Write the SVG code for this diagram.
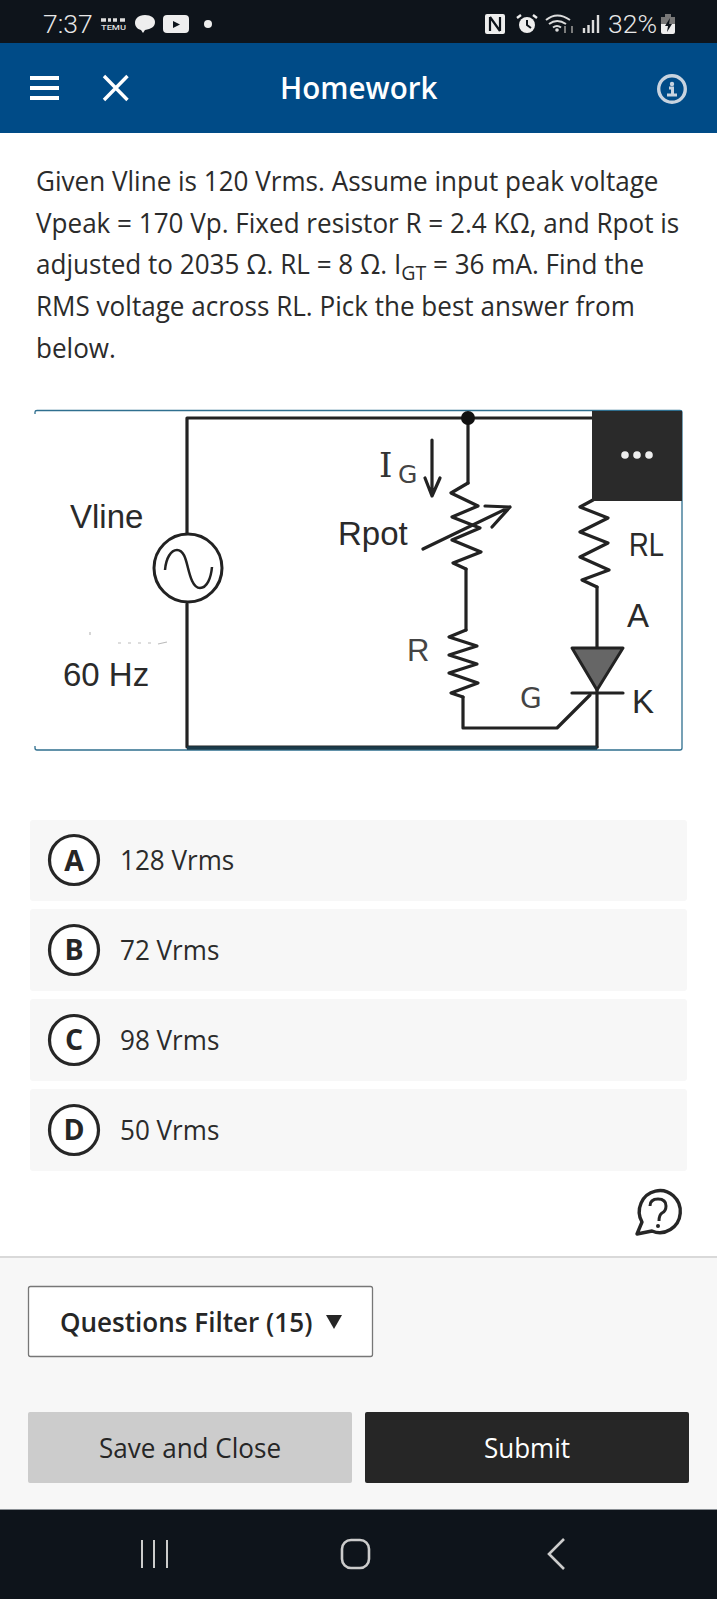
<svg xmlns="http://www.w3.org/2000/svg" width="717" height="1599" viewBox="0 0 717 1599">
<style>
.t{font-family:"Open Sans","Noto Sans",sans-serif;fill:#2b2b2b;font-size:27.300px}
.c{font-family:"Liberation Sans",Arial,sans-serif;fill:#2a2a2a;font-size:33px}
.w{fill:none;stroke:#222;stroke-width:3.200;stroke-linejoin:round;stroke-linecap:round}
.row{fill:#f7f7f7}
.ring{fill:#fff;stroke:#262626;stroke-width:3.200}
.let{font-family:"Open Sans","Noto Sans",sans-serif;font-size:28.500px;font-weight:700;fill:#262626;text-anchor:middle}
.st{font-family:"Roboto",sans-serif;fill:#e8e8e8;font-weight:300}
</style>
<rect width="717" height="1599" fill="#fff"/>
<g id="status-bar">
<rect width="717" height="43" fill="#0e141b"/>
<text class="st" x="43" y="33" font-size="26.500">7:37</text>
<text x="101" y="30" font-family="Roboto,sans-serif" font-size="8" font-weight="500" fill="#ddd" textLength="25" lengthAdjust="spacingAndGlyphs">TEMU</text>
<path d="M101 20h5M108 20h3M113 20h4M120 20h5" stroke="#ddd" stroke-width="3.500" fill="none"/>
<path d="M145 15c-7 0-10 4-10 8 0 3 2 6 6 7l2 3 2-3c6-1 10-3 10-8 0-4-4-7-10-7z" fill="#eee"/>
<rect x="163" y="15" width="26" height="18" rx="4" fill="#eee"/>
<path d="M173 21l7 3.500-7 3.500z" fill="#0e141b"/>
<circle cx="208" cy="24" r="4" fill="#eee"/>
<rect x="485" y="14" width="20" height="20" rx="2" fill="#eee"/>
<path d="M490 17v14M500 17v14M490 17l10 14" stroke="#0e141b" stroke-width="2.200" fill="none"/>
<circle cx="527" cy="25" r="8" fill="#eee"/>
<path d="M527 20v5l4 3" stroke="#0e141b" stroke-width="2" fill="none"/>
<path d="M517 18l4-3M537 18l-4-3" stroke="#eee" stroke-width="2.400" fill="none"/>
<path d="M546 20q11-9 24 0M549 24q8-6 17 0M553 27.500q4-3 8 0" stroke="#ddd" stroke-width="2" fill="none"/>
<circle cx="557" cy="30" r="1.800" fill="#ddd"/>
<path d="M565 26v7M572 33v-7" stroke="#888" stroke-width="1.800" fill="none"/>
<path d="M584 33v-5M588.500 33v-8M593 33v-13M598 33v-18" stroke="#ddd" stroke-width="2.400" fill="none"/>
<text class="st" x="608" y="33" font-size="26.500">32%</text>
<rect x="661" y="17" width="14" height="17" rx="2" fill="#eee"/>
<rect x="661" y="17" width="14" height="7" fill="#777"/>
<rect x="665" y="14" width="6" height="3" fill="#777"/>
<path d="M670 18l-5 8h3l-1 6 5-8h-3z" fill="#0e141b"/>
</g>
<g id="header">
<rect y="43" width="717" height="90" fill="#004b87"/>
<path d="M30 78h29M30 88h29M30 98h29" stroke="#fff" stroke-width="3.800" fill="none"/>
<path d="M104 76l23.500 24M127.500 76l-23.500 24" stroke="#fff" stroke-width="3.400" fill="none"/>
<text transform="translate(280 99) scale(.97 1)" font-family="Open Sans,sans-serif" font-weight="600" font-size="30.500" fill="#fff">Homework</text>
<circle cx="672" cy="89" r="13.300" fill="none" stroke="#c8d3df" stroke-width="3.400"/>
<circle cx="672" cy="84" r="2.200" fill="#c8d3df"/>
<path d="M669 88h3.500v6M667 95h10" stroke="#c8d3df" stroke-width="3" fill="none"/>
</g>
<g id="question">
<text class="t" transform="translate(36 190.500) scale(.955 1)">Given Vline is 120 Vrms. Assume input peak voltage</text>
<text class="t" transform="translate(36 232.500) scale(.955 1)">Vpeak = 170 Vp. Fixed resistor R = 2.4 KΩ, and Rpot is</text>
<text class="t" transform="translate(36 273.500) scale(.955 1)">adjusted to 2035 Ω. RL = 8 Ω. I<tspan font-size="20.500" dy="6">GT</tspan><tspan dy="-6"> = 36 mA. Find the</tspan></text>
<text class="t" transform="translate(36 315.500) scale(.955 1)">RMS voltage across RL. Pick the best answer from</text>
<text class="t" transform="translate(36 357.500) scale(.955 1)">below.</text>
</g>
<g id="figure-frame">
<path d="M35 414v-2q0-1.500 2-1.500H680q2 0 2 1.500V748q0 2-2 2H37q-2 0-2-2v-2" fill="#fff" stroke="#2f6f8f" stroke-width="1.300"/>
<path d="M90 632v3M118 643h3M128 643h3M138 643h3M148 643h3M158 644l9-2" stroke="#bbb" stroke-width="1.200" fill="none"/>
</g>
<g id="connectors">
<path class="w" d="M593 418H187V534M187 604V747H597"/>
<path class="w" d="M468 418V483M466 569V630M463 697V728H557L590 695M597 587V648M597 690V747"/>
<path d="M187 748H597" stroke="#1a3a4a" stroke-width="3.500" fill="none"/>
</g>
<g id="junction"><circle cx="468" cy="418" r="7" fill="#111"/></g>
<g id="source">
<circle cx="188" cy="568" r="34" fill="#fff" stroke="#222" stroke-width="3"/>
<path d="M165 570C166 558 171 550 177 550C184 550 186 560 188 568C190 576 193 588 200 588C207 588 211 578 212 567" fill="none" stroke="#222" stroke-width="2.500"/>
<text class="c" x="70" y="528">Vline</text>
<text class="c" x="63" y="686">60 Hz</text>
</g>
<g id="rpot">
<path class="w" d="M468 483L451 493 478 506 452 517 480 528 452 540 481 552 453 563 466 569"/>
<path class="w" d="M423 549L510 507M485 506L510 507 492 527"/>
<text class="c" x="338" y="545">Rpot</text>
<text x="379" y="477" font-family="DejaVu Serif,serif" font-size="34" fill="#333">I</text>
<text x="398" y="483" font-family="DejaVu Sans,sans-serif" font-size="25" fill="#444">G</text>
<path class="w" d="M432 440V496M425 478L432 496 440 478"/>
</g>
<g id="resistor-r">
<path class="w" d="M466 630L449 637 477 646 449 655 477 664 449 673 478 683 451 693 463 697"/>
<text class="c" x="407" y="661" font-size="31" style="font-size:31px;fill:#444">R</text>
</g>
<g id="rl">
<path class="w" d="M593 500L580 507 608 518 580 532 608 543 580 557 609 570 582 580 597 587"/>
<text class="c" x="629" y="556" textLength="35" lengthAdjust="spacingAndGlyphs">RL</text>
<text class="c" x="627" y="627">A</text>
</g>
<g id="scr">
<path d="M572 648H623L597 690z" fill="#666" stroke="#222" stroke-width="3" stroke-linejoin="round"/>
<path class="w" d="M572 693H623"/>
<text class="c" x="632" y="713">K</text>
<text x="520" y="708" font-family="DejaVu Sans,sans-serif" font-size="28" fill="#444">G</text>
</g>
<g id="more-button">
<rect x="592" y="411" width="90" height="90" fill="#2a2a2a"/>
<circle cx="625" cy="455" r="3.800" fill="#eee"/><circle cx="637" cy="455" r="3.800" fill="#eee"/><circle cx="649" cy="455" r="3.800" fill="#eee"/>
</g>
<g id="option-a"><rect class="row" x="30" y="820" width="657" height="81" rx="3"/><circle class="ring" cx="74" cy="860" r="24.500"/><text class="let" x="74" y="870.500">A</text><text class="t" transform="translate(120 870) scale(.955 1)">128 Vrms</text></g>
<g id="option-b"><rect class="row" x="30" y="909" width="657" height="82" rx="3"/><circle class="ring" cx="74" cy="950" r="24.500"/><text class="let" x="74" y="960">B</text><text class="t" transform="translate(120 960) scale(.955 1)">72 Vrms</text></g>
<g id="option-c"><rect class="row" x="30" y="999" width="657" height="82" rx="3"/><circle class="ring" cx="74" cy="1040" r="24.500"/><text class="let" x="74" y="1050">C</text><text class="t" transform="translate(120 1050) scale(.955 1)">98 Vrms</text></g>
<g id="option-d"><rect class="row" x="30" y="1089" width="657" height="82" rx="3"/><circle class="ring" cx="74" cy="1130" r="24.500"/><text class="let" x="74" y="1140">D</text><text class="t" transform="translate(120 1140) scale(.955 1)">50 Vrms</text></g>
<g id="help-icon">
<path d="M642 1222A20.500 21 0 1 1 652 1231L637 1234z" fill="none" stroke="#262626" stroke-width="3.400" stroke-linejoin="round"/>
<path d="M650 1206q0-7 8-7 8 0 8 7 0 5-4 7-3 2-3 8" fill="none" stroke="#262626" stroke-width="3"/>
<circle cx="658" cy="1226" r="2" fill="#262626"/>
</g>
<g id="footer">
<rect y="1257" width="717" height="253" fill="#f7f7f7"/>
<rect y="1256" width="717" height="2" fill="#d9d9d9"/>
<rect x="28.500" y="1286.500" width="344" height="70" rx="2" fill="#fff" stroke="#777" stroke-width="1.300"/>
<text transform="translate(60 1331.500) scale(.955 1)" font-family="Open Sans,sans-serif" font-weight="600" font-size="27.300" fill="#262626">Questions Filter (15)</text>
<path d="M326 1315h16l-8 14z" fill="#262626"/>
<rect x="28" y="1412" width="324" height="71" rx="2" fill="#cccccc"/>
<text transform="translate(190 1457.500) scale(.955 1)" text-anchor="middle" font-family="Open Sans,sans-serif" font-size="27.300" fill="#262626">Save and Close</text>
<rect x="365" y="1412" width="324" height="71" rx="2" fill="#262626"/>
<text transform="translate(527 1457.500) scale(.955 1)" text-anchor="middle" font-family="Open Sans,sans-serif" font-size="27.300" fill="#fff">Submit</text>
<rect y="1509" width="717" height="1" fill="#8a8f94"/>
</g>
<g id="nav-bar">
<rect y="1510" width="717" height="89" fill="#0e141b"/>
<path d="M142 1540v28M154 1540v28M167 1540v28" stroke="#ccc" stroke-width="2" fill="none"/>
<rect x="342" y="1540" width="27" height="28" rx="9" fill="none" stroke="#ccc" stroke-width="2.600"/>
<path d="M564 1539l-15 15 15 15" stroke="#ccc" stroke-width="2.600" fill="none"/>
</g>
</svg>
